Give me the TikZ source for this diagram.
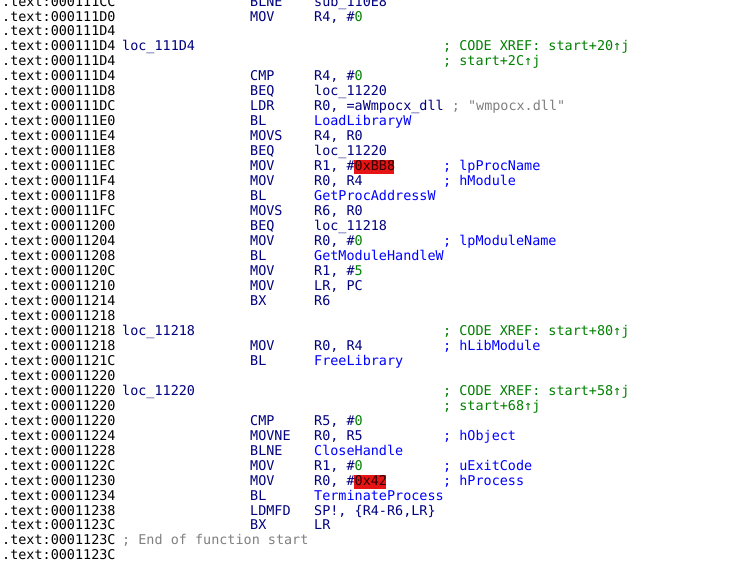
\documentclass[tikz,border=0pt]{standalone}
\usepackage{fontspec}
\setmonofont{DejaVu Sans Mono}
\definecolor{idanavy}{RGB}{0,0,128}
\definecolor{idablue}{RGB}{0,0,255}
\definecolor{idagreen}{RGB}{0,128,0}
\definecolor{idagray}{RGB}{128,128,128}
\definecolor{idared}{RGB}{230,20,20}
\tikzset{txt/.style={anchor=base west,inner sep=0pt,font=\ttfamily\fontsize{13.45}{15}\selectfont}}
\newcommand\Gz{\textcolor{idagreen}{0}}
\newcommand\Ln[6]{%
  \pgfmathsetmacro\yy{21+(#1-2)*14.97}
  \node[txt,text=black] (ad#1) at (2pt,-\yy pt) {.text:#2};
  \node[txt,text=idanavy] (lb#1) at (122pt,-\yy pt) {#3};
  \node[txt,text=idanavy] (mn#1) at (250pt,-\yy pt) {#4};
  \node[txt,text=idanavy] (op#1) at (314pt,-\yy pt) {#5};
  \node[txt,text=idanavy] (cm#1) at (443pt,-\yy pt) {#6};
}
\begin{document}
\begin{tikzpicture}[x=1pt,y=1pt]
\useasboundingbox[fill=white] (0,0) rectangle (754,-563);
\fill[idared] (354,-159.5) rectangle (394,-174);
\fill[idared] (354,-474.5) rectangle (386,-489);
\Ln{1}{000111CC}{}{BLNE}{sub\_110E8}{}
\Ln{2}{000111D0}{}{MOV}{R4, \#\Gz}{}
\Ln{3}{000111D4}{}{}{}{}
\Ln{4}{000111D4}{loc\_111D4}{}{}{\textcolor{idagreen}{; CODE XREF: start+20↑j}}
\Ln{5}{000111D4}{}{}{}{\textcolor{idagreen}{; start+2C↑j}}
\Ln{6}{000111D4}{}{CMP}{R4, \#\Gz}{}
\Ln{7}{000111D8}{}{BEQ}{loc\_11220}{}
\Ln{8}{000111DC}{}{LDR}{R0, =aWmpocx\_dll \textcolor{idagray}{; "wmpocx.dll"}}{}
\Ln{9}{000111E0}{}{BL}{\textcolor{idablue}{LoadLibraryW}}{}
\Ln{10}{000111E4}{}{MOVS}{R4, R0}{}
\Ln{11}{000111E8}{}{BEQ}{loc\_11220}{}
\Ln{12}{000111EC}{}{MOV}{R1, \#\textcolor{black!80!red}{0xBB8}}{\textcolor{idablue}{; lpProcName}}
\Ln{13}{000111F4}{}{MOV}{R0, R4}{\textcolor{idablue}{; hModule}}
\Ln{14}{000111F8}{}{BL}{\textcolor{idablue}{GetProcAddressW}}{}
\Ln{15}{000111FC}{}{MOVS}{R6, R0}{}
\Ln{16}{00011200}{}{BEQ}{loc\_11218}{}
\Ln{17}{00011204}{}{MOV}{R0, \#\Gz}{\textcolor{idablue}{; lpModuleName}}
\Ln{18}{00011208}{}{BL}{\textcolor{idablue}{GetModuleHandleW}}{}
\Ln{19}{0001120C}{}{MOV}{R1, \#\textcolor{idagreen}{5}}{}
\Ln{20}{00011210}{}{MOV}{LR, PC}{}
\Ln{21}{00011214}{}{BX}{R6}{}
\Ln{22}{00011218}{}{}{}{}
\Ln{23}{00011218}{loc\_11218}{}{}{\textcolor{idagreen}{; CODE XREF: start+80↑j}}
\Ln{24}{00011218}{}{MOV}{R0, R4}{\textcolor{idablue}{; hLibModule}}
\Ln{25}{0001121C}{}{BL}{\textcolor{idablue}{FreeLibrary}}{}
\Ln{26}{00011220}{}{}{}{}
\Ln{27}{00011220}{loc\_11220}{}{}{\textcolor{idagreen}{; CODE XREF: start+58↑j}}
\Ln{28}{00011220}{}{}{}{\textcolor{idagreen}{; start+68↑j}}
\Ln{29}{00011220}{}{CMP}{R5, \#\Gz}{}
\Ln{30}{00011224}{}{MOVNE}{R0, R5}{\textcolor{idablue}{; hObject}}
\Ln{31}{00011228}{}{BLNE}{\textcolor{idablue}{CloseHandle}}{}
\Ln{32}{0001122C}{}{MOV}{R1, \#\Gz}{\textcolor{idablue}{; uExitCode}}
\Ln{33}{00011230}{}{MOV}{R0, \#\textcolor{black!80!red}{0x42}}{\textcolor{idablue}{; hProcess}}
\Ln{34}{00011234}{}{BL}{\textcolor{idablue}{TerminateProcess}}{}
\Ln{35}{00011238}{}{LDMFD}{SP!, \{R4-R6,LR\}}{}
\Ln{36}{0001123C}{}{BX}{LR}{}
\Ln{37}{0001123C}{\textcolor{idagray}{; End of function start}}{}{}{}
\Ln{38}{0001123C}{}{}{}{}
\end{tikzpicture}
\end{document}
